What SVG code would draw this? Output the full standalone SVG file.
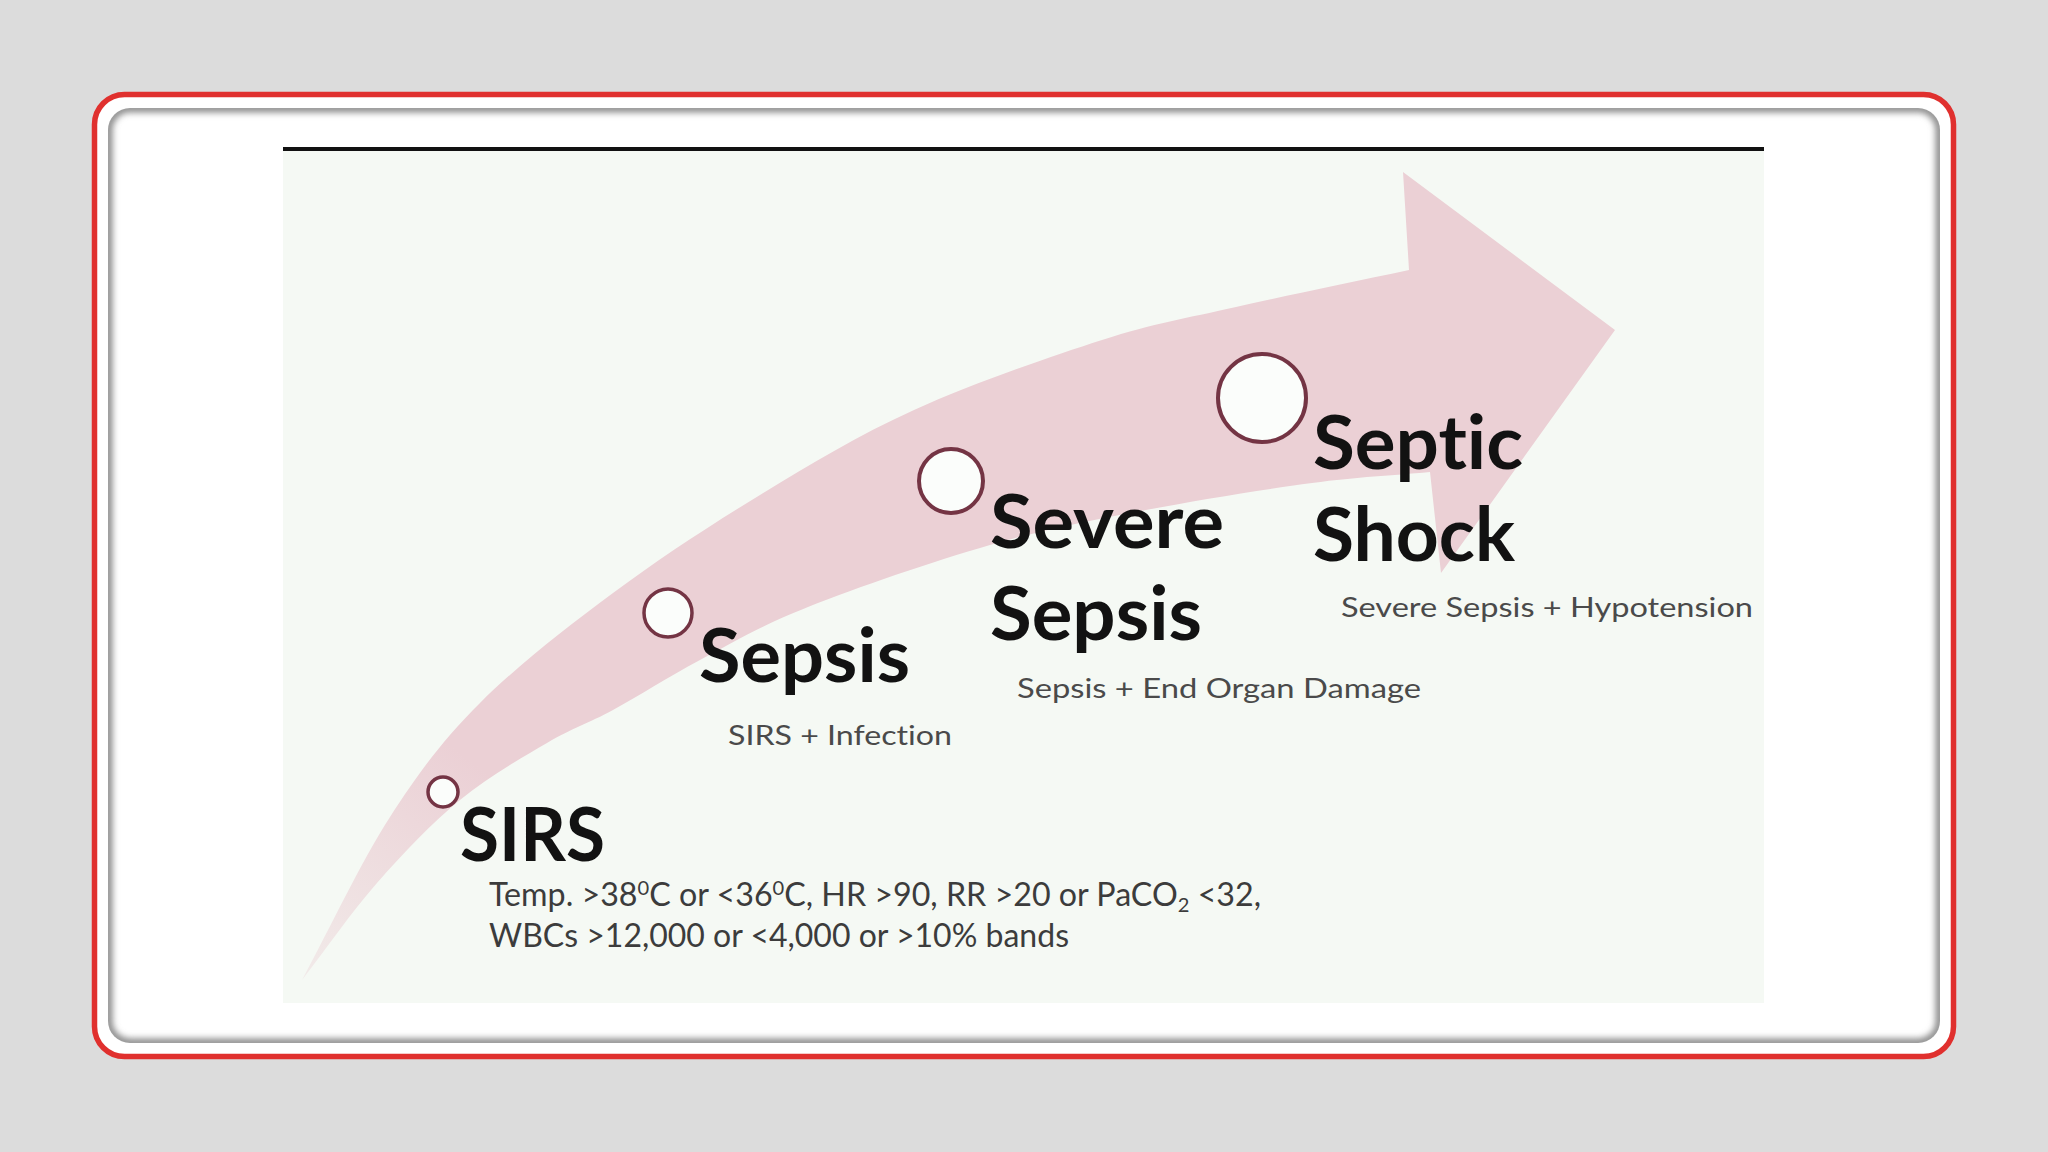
<svg xmlns="http://www.w3.org/2000/svg" width="2048" height="1152" viewBox="0 0 2048 1152">
<style>
text{font-variant-ligatures:none;font-feature-settings:"liga" 0,"clig" 0}
.title{font-family:Lato,"Open Sans","Liberation Sans",sans-serif;font-weight:700;font-size:74px;fill:#121212}
.sub{font-family:Lato,"Open Sans","Liberation Sans",sans-serif;font-weight:400;font-size:26px;fill:#4a4a4a}
.crit{font-family:Lato,"Open Sans","Liberation Sans",sans-serif;font-weight:400;font-size:32px;fill:#3c3c3c}
.stage{fill:#fbfdfb;stroke:#743444}
</style>
<defs>
<clipPath id="cardClip"><rect x="108" y="108" width="1832" height="935" rx="22"/></clipPath>
<filter id="blur" x="-5%" y="-5%" width="110%" height="110%"><feGaussianBlur stdDeviation="3"/></filter>
<linearGradient id="tailFade" gradientUnits="userSpaceOnUse" x1="302" y1="980" x2="470" y2="760">
<stop offset="0" stop-color="#ebd0d5" stop-opacity="0.35"/>
<stop offset="1" stop-color="#ebd0d5" stop-opacity="1"/>
</linearGradient>
</defs>
<rect x="0" y="0" width="2048" height="1152" fill="#dcdcdc"/>
<rect x="94.5" y="94.5" width="1859" height="962" rx="30" fill="#ffffff" stroke="#e0302e" stroke-width="5.5"/>
<rect x="108" y="108" width="1832" height="935" rx="22" fill="#ffffff"/>
<g clip-path="url(#cardClip)">
<rect x="108" y="108" width="1832" height="935" rx="22" fill="none" stroke="#8c8c8c" stroke-width="9" filter="url(#blur)"/>
</g>
<rect x="283" y="149" width="1481" height="854" fill="#f5f9f4"/>
<rect x="283" y="147" width="1481" height="4" fill="#111111"/>
<g id="connectors">
<path id="progression-arrow" fill="url(#tailFade)" d="M302,980 C331.3,925.7 360.3,863.2 390,817 C419.7,770.8 442.8,740.3 480,703 C517.2,665.7 566.3,627.7 613,593 C659.7,558.3 709.8,525.5 760,495 C810.2,464.5 857,435.8 914,410 C971,384.2 1048.3,357.2 1102,340 C1155.7,322.8 1184.8,318.7 1236,307 C1287.2,295.3 1351.3,282.3 1409,270 L1403,172 L1615,330 L1441,573 L1430,472 C1390.7,475.7 1359.3,476.7 1312,483 C1264.7,489.3 1199.7,499.7 1146,510 C1092.3,520.3 1046.3,528.8 990,545 C933.7,561.2 856.3,587.8 808,607 C759.7,626.2 732.5,642.8 700,660 C667.5,677.2 638.5,696.2 613,710 C587.5,723.8 572.5,728 547,743 C521.5,758 488.3,776.7 460,800 C431.7,823.3 403.3,853 377,883 C350.7,913 327,947.7 302,980 Z"/>
</g>
<g id="node-sirs">
<circle class="stage" cx="443" cy="792" r="15" stroke-width="3.5"/>
<text class="title" x="460" y="861" textLength="145" lengthAdjust="spacingAndGlyphs">SIRS</text>
<text class="crit" x="489" y="906" textLength="772" lengthAdjust="spacingAndGlyphs">Temp. &gt;38<tspan font-size="20" dy="-11">0</tspan><tspan dy="11">C or &lt;36</tspan><tspan font-size="20" dy="-11">0</tspan><tspan dy="11">C, HR &gt;90, RR &gt;20 or PaCO</tspan><tspan font-size="20" dy="6">2</tspan><tspan dy="-6"> &lt;32,</tspan></text>
<text class="crit" x="489" y="947" textLength="580" lengthAdjust="spacingAndGlyphs">WBCs &gt;12,000 or &lt;4,000 or &gt;10% bands</text>
</g>
<g id="node-sepsis">
<circle class="stage" cx="668" cy="613" r="24" stroke-width="3.5"/>
<text class="title" x="699" y="682" textLength="211" lengthAdjust="spacingAndGlyphs">Sepsis</text>
<text class="sub" x="728" y="745" textLength="224" lengthAdjust="spacingAndGlyphs">SIRS + Infection</text>
</g>
<g id="node-severe-sepsis">
<circle class="stage" cx="951" cy="481" r="32" stroke-width="4"/>
<text class="title" x="990" y="548" textLength="234" lengthAdjust="spacingAndGlyphs">Severe</text>
<text class="title" x="990" y="640" textLength="212" lengthAdjust="spacingAndGlyphs">Sepsis</text>
<text class="sub" x="1017" y="698" textLength="404" lengthAdjust="spacingAndGlyphs">Sepsis + End Organ Damage</text>
</g>
<g id="node-septic-shock">
<circle class="stage" cx="1262" cy="398" r="44" stroke-width="4"/>
<text class="title" x="1313" y="469" textLength="210" lengthAdjust="spacingAndGlyphs">Septic</text>
<text class="title" x="1313" y="561" textLength="202" lengthAdjust="spacingAndGlyphs">Shock</text>
<text class="sub" x="1341" y="617" textLength="412" lengthAdjust="spacingAndGlyphs">Severe Sepsis + Hypotension</text>
</g>
</svg>
